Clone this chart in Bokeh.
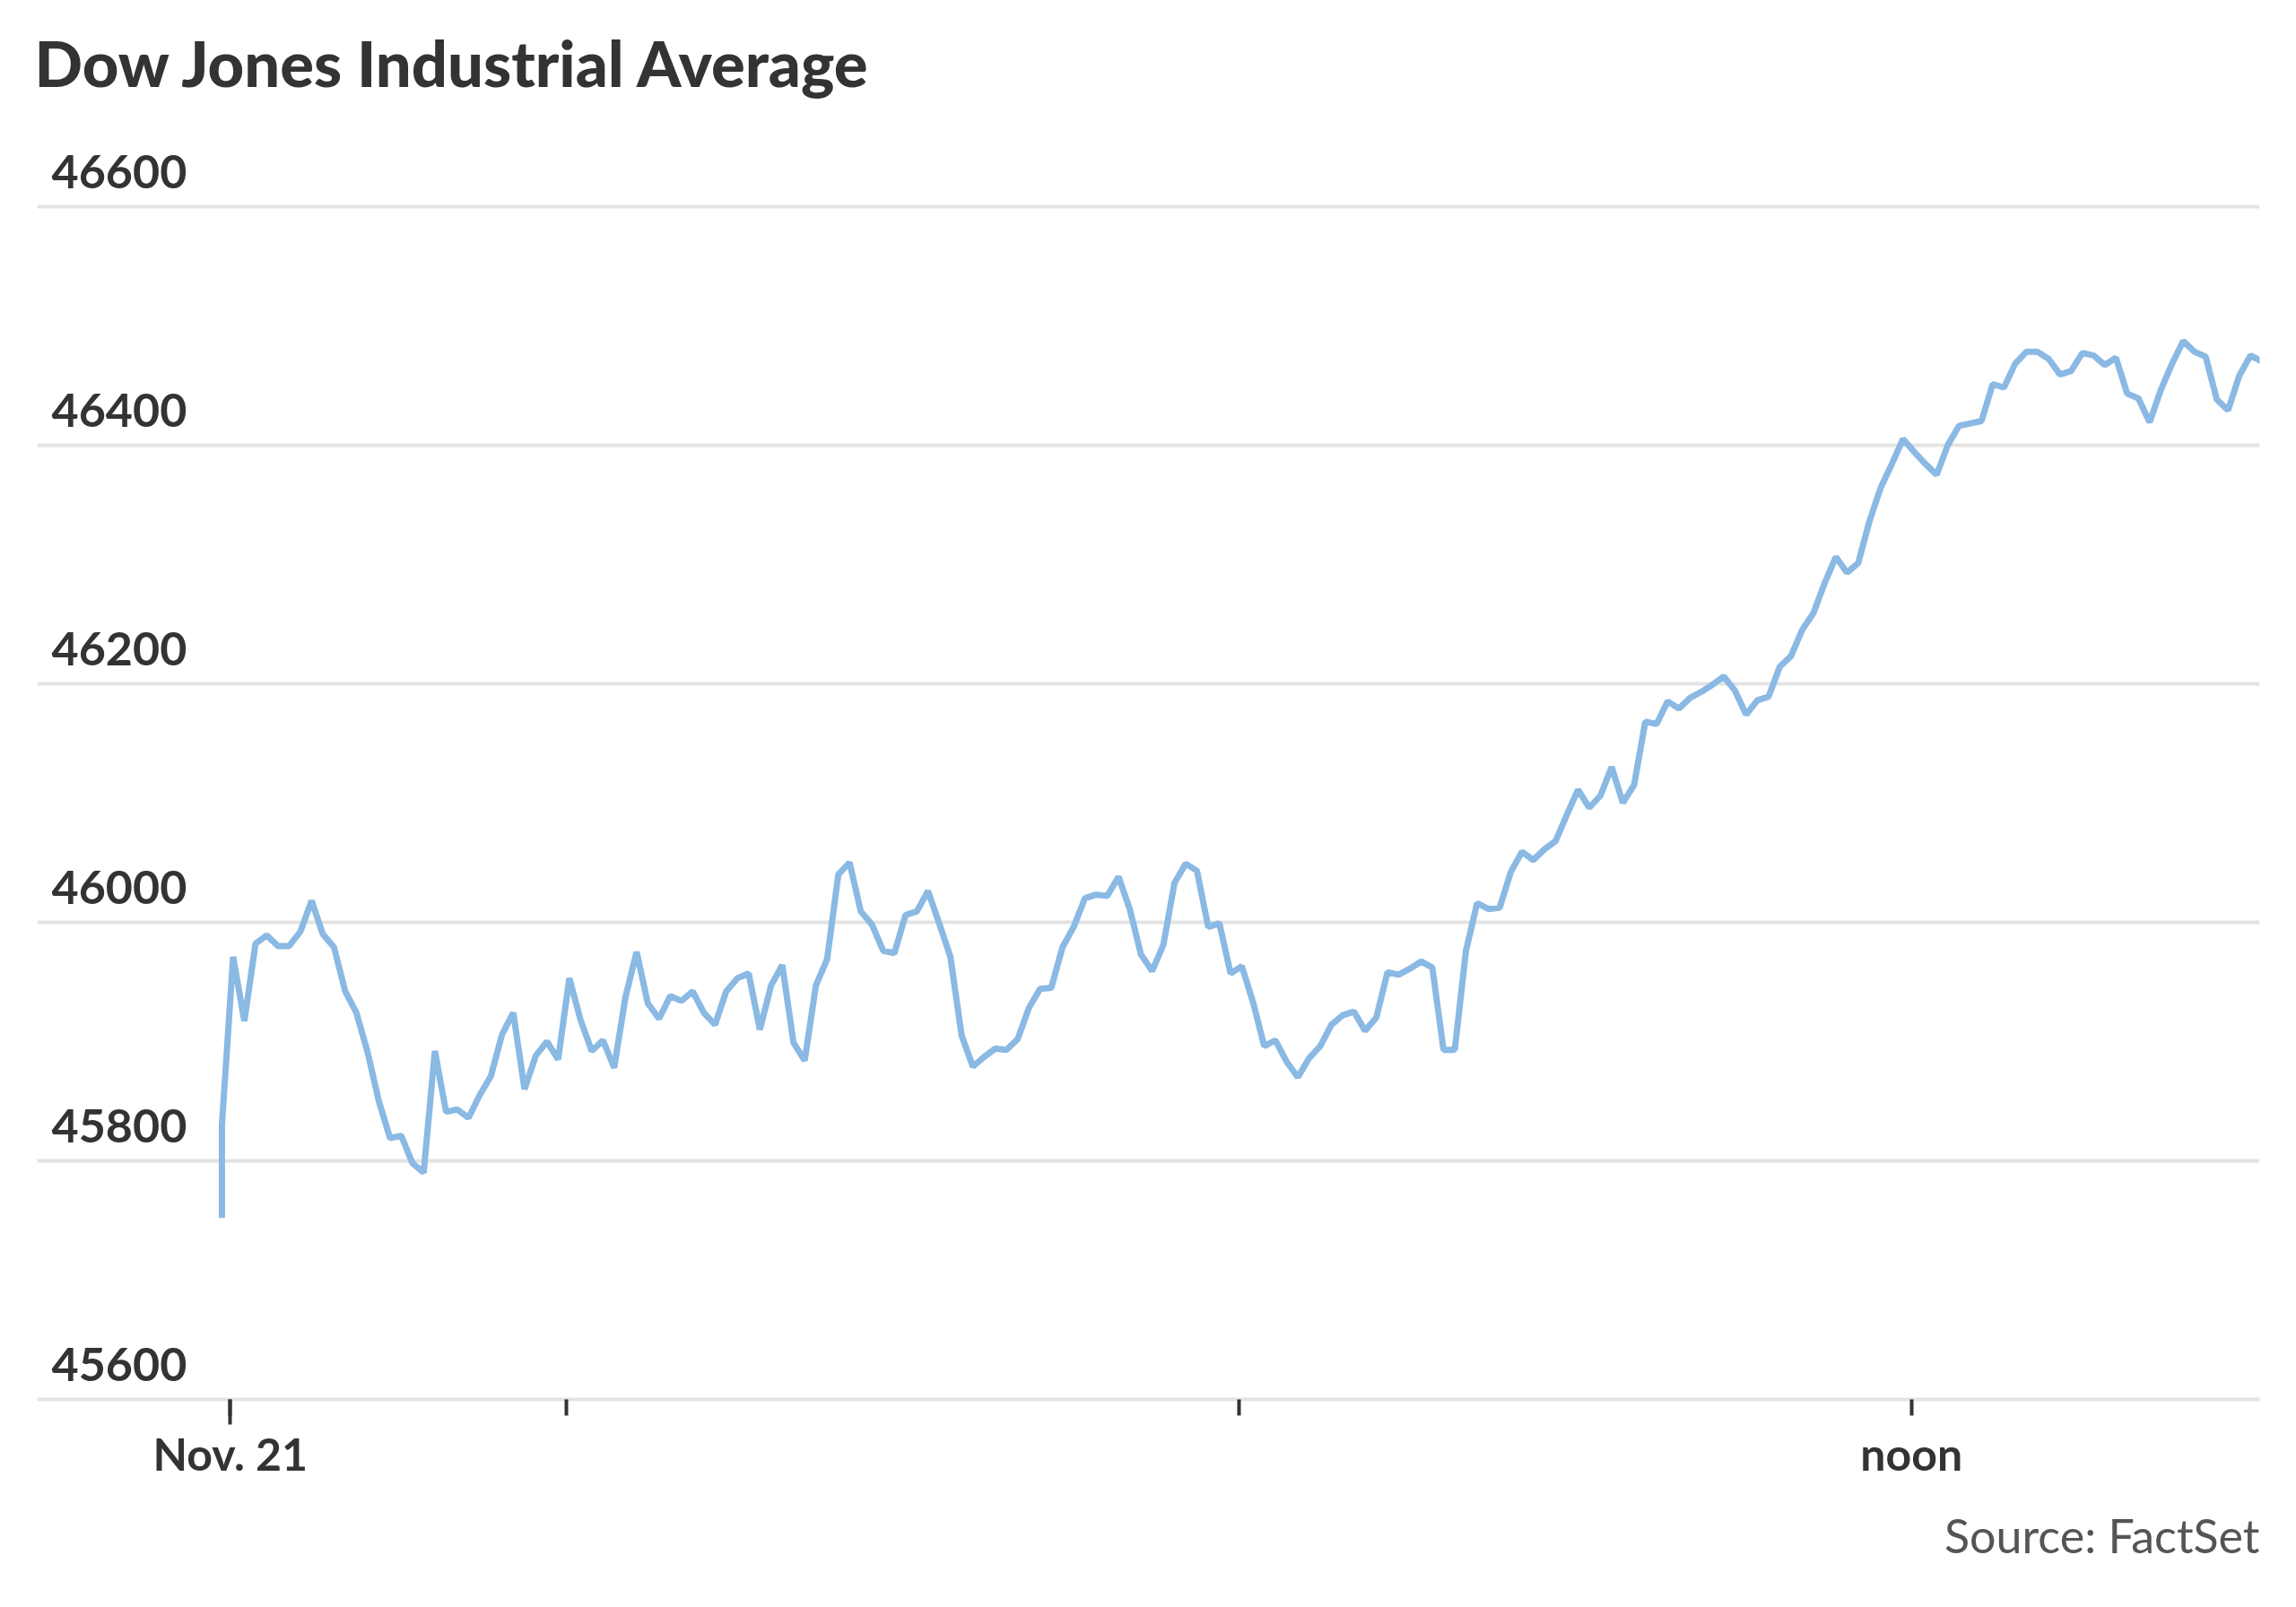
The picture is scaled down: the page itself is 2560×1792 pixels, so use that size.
from bokeh.plotting import figure
from bokeh.models import Range1d, FixedTicker, Title, ColumnDataSource
from bokeh.core.properties import value
from bokeh.embed import file_html
from bokeh.resources import INLINE

# ---- data (minutes after 9:30 a.m., Nov. 21) ----
first_minute = -0.75
dow = [45752, 45830,
       45971, 45917, 45982, 45989, 45980, 45980, 45992, 46018, 45990, 45979,
       45942, 45924, 45891, 45850, 45819, 45821, 45798, 45790, 45892, 45841,
       45843, 45836, 45855, 45871, 45906, 45924, 45860, 45888, 45900, 45885,
       45953, 45918, 45892, 45901, 45878, 45937, 45975, 45932, 45919, 45938,
       45934, 45942, 45924, 45914, 45942, 45953, 45957, 45910, 45947, 45964,
       45899, 45884, 45947, 45969, 46040, 46050, 46009, 45998, 45976, 45974,
       46006, 46009, 46026, 45999, 45971, 45905, 45879, 45887, 45894, 45893,
       45902, 45928, 45944, 45945, 45979, 45996, 46020, 46023, 46022, 46038,
       46011, 45973, 45959, 45981, 46033, 46049, 46043, 45996, 45999, 45957,
       45963, 45933, 45896, 45901, 45883, 45870, 45886, 45896, 45914, 45922,
       45925, 45909, 45920, 45958, 45956, 45961, 45967, 45962, 45893, 45893,
       45976, 46016, 46011, 46012, 46042, 46059, 46052, 46061, 46068, 46090,
       46111, 46096, 46106, 46130, 46100, 46115, 46168, 46166, 46185, 46179,
       46188, 46193, 46199, 46206, 46194, 46174, 46186, 46189, 46214, 46223,
       46245, 46259, 46284, 46306, 46293, 46301, 46336, 46364, 46384, 46405,
       46394, 46384, 46375, 46400, 46416, 46418, 46420, 46451, 46448, 46468,
       46478, 46478, 46472, 46459, 46462, 46477, 46475, 46467, 46473, 46443,
       46439, 46419, 46446, 46468, 46487, 46478, 46474, 46438, 46429, 46458,
       46475, 46470]
# first two prints share the opening minute, then one print per minute
minutes = [first_minute] + [first_minute + k for k in range(len(dow) - 1)]

y_ticks = [45600, 45800, 46000, 46200, 46400, 46600]
y_tick_labels = ["45600", "45800", "46000", "46200", "46400", "46600"]
x_ticks = [0, 30, 90, 150]
x_tick_labels = ["Nov. 21", "", "", "noon"]
day_ticks = [0]

TITLE = "Dow Jones Industrial Average"
SOURCE = "Source: FactSet"

INK = "#333333"
GRID = "#e3e3e3"
LINE = "#8ab9e3"

x0, x1 = -17.23, 181.07
y0, y1 = 45600, 46772.5

p = figure(width=2544, height=1776, output_backend="svg", toolbar_location=None,
           x_range=Range1d(x0, x1), y_range=Range1d(y0, y1),
           min_border_left=41, min_border_right=25,
           min_border_top=0, min_border_bottom=216)
p.outline_line_color = None
p.background_fill_color = "white"
p.border_fill_color = "white"

# grid
p.xgrid.visible = False
p.yaxis.visible = False
p.ygrid.ticker = FixedTicker(ticks=y_ticks)
p.ygrid.grid_line_color = GRID
p.ygrid.grid_line_width = 4

# x axis
xa = p.xaxis[0]
xa.ticker = FixedTicker(ticks=x_ticks, minor_ticks=day_ticks)
xa.major_label_overrides = {t: l for t, l in zip(x_ticks, x_tick_labels)}
xa.axis_line_color = GRID
xa.axis_line_width = 4
xa.major_tick_in = 0
xa.major_tick_out = 18
xa.minor_tick_in = 0
xa.minor_tick_out = 28
xa.major_tick_line_color = INK
xa.major_tick_line_width = 4
xa.minor_tick_line_color = INK
xa.minor_tick_line_width = 4
xa.major_label_text_font = "Lato"
xa.major_label_text_font_style = "bold"
xa.major_label_text_font_size = "50px"
xa.major_label_text_color = INK
xa.major_label_standoff = 2

# y tick labels inside the plot, above each gridline
lab = ColumnDataSource(dict(x=[x0] * len(y_ticks), y=y_ticks, t=y_tick_labels))
p.text(x="x", y="y", text="t", source=lab, x_offset=16, y_offset=-39,
       text_font=value("Lato"), text_font_style="bold", text_font_size="52px",
       text_color=INK, text_align="left", text_baseline="alphabetic")

# headline, anchored above the top gridline
head = ColumnDataSource(dict(x=[x0], y=[y_ticks[-1]], t=[TITLE]))
p.text(x="x", y="y", text="t", source=head, x_offset=-3, y_offset=-161,
       text_font=value("Lato Black"), text_font_style="bold", text_font_size="70.5px",
       text_color=INK, text_align="left", text_baseline="alphabetic")

# the series
p.line(minutes, dow, line_color=LINE, line_width=7)

# source note
p.add_layout(Title(text=SOURCE, align="right", text_font="Lato",
                   text_font_style="normal", text_font_size="52px",
                   text_color="#555555", standoff=50), "below")

open("out.html", "w").write(file_html(p, INLINE))
